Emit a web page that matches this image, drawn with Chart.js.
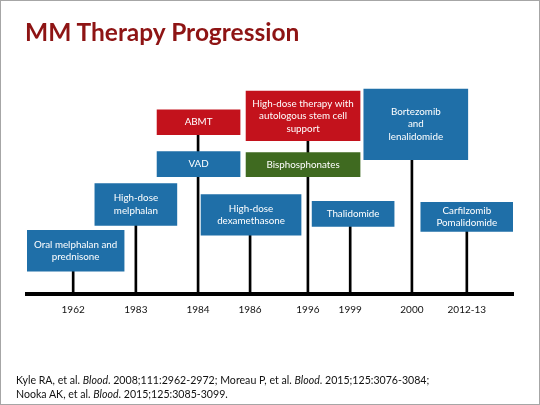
<!DOCTYPE html>
<html>
<head>
<meta charset="utf-8">
<script src="https://cdn.jsdelivr.net/npm/chart.js@4.4.1/dist/chart.umd.min.js"></script>
<style>
  html, body { margin: 0; padding: 0; background: #fff; }
  #wrap { position: relative; width: 540px; height: 405px; overflow: hidden; font-family: Lato, "Open Sans", sans-serif; }
  #chart { position: absolute; left: 0; top: 0; }
  #frame { position: absolute; left: 0; top: 0; width: 540px; height: 405px; box-sizing: border-box; border: 1px solid #a6a6a6; pointer-events: none; }
  #title { position: absolute; left: 25px; top: 17px; font-size: 24.5px; font-weight: bold; color: #8e1414; white-space: nowrap; }
  #note { position: absolute; left: 16px; top: 373px; font-size: 10.6px; line-height: 14px; color: #111; white-space: nowrap; }
</style>
</head>
<body>
<div id="wrap">
  <canvas id="chart" width="540" height="405"></canvas>
  <div id="title">MM Therapy Progression</div>
  <div id="note">Kyle RA, et al. <i>Blood</i>. 2008;111:2962-2972; Moreau P, et al. <i>Blood</i>. 2015;125:3076-3084;<br>Nooka AK, et al. <i>Blood</i>. 2015;125:3085-3099.</div>
  <div id="frame"></div>
</div>
<script>
// timeline stops (position along the axis, 0-100) and their labels
const years = ["1962", "1983", "1984", "1986", "1996", "1999", "2000", "2012-13"];
const stemPos = [9.5, 22.4, 35.2, 45.9, 57.8, 66.5, 79.2, 90.5];
// how high each stem reaches (bottom of its top box)
const stemTop = [23, 69, 160, 59, 154, 68, 135, 63];

// boxes: label lines, centre on the timeline, vertical extent above the axis
const boxLabels = [
  ["Oral melphalan and", "prednisone"],
  ["High-dose", "melphalan"],
  ["VAD"],
  ["ABMT"],
  ["High-dose", "dexamethasone"],
  ["High-dose therapy with", "autologous stem cell", "support"],
  ["Bisphosphonates"],
  ["Thalidomide"],
  ["Bortezomib", "and", "lenalidomide"],
  ["Carfilzomib", "Pomalidomide"]
];
const boxPos = [10.0, 22.4, 35.3, 35.3, 46.1, 56.8, 56.8, 67.1, 80.0, 90.5];
const boxLow = [23, 69, 118, 160, 59, 154, 118, 68, 135, 63];
const boxHigh = [64, 111, 143, 185, 100, 204, 142, 93, 206, 92];
const boxKind = ["blue", "blue", "blue", "red", "blue", "red", "green", "blue", "blue", "blue"];

const colors = { blue: "#1f6fa8", red: "#c3121c", green: "#3f6a20" };
const boxWidths = [97, 82, 83, 83, 100, 114, 114, 82, 104, 92];

const boxSets = boxLabels.map((lbl, i) => ({
  type: "bar",
  label: lbl.join(" "),
  data: [{ x: boxPos[i], y: [boxLow[i], boxHigh[i]] }],
  backgroundColor: colors[boxKind[i]],
  barThickness: boxWidths[i],
  grouped: false,
  order: 0
}));

const stemSet = {
  type: "bar",
  label: "stems",
  data: stemPos.map((x, i) => ({ x: x, y: [0, stemTop[i]] })),
  backgroundColor: "#000",
  barThickness: 2,
  grouped: false,
  order: 5
};

// white text inside each box
const boxText = {
  id: "boxText",
  afterDatasetsDraw(chart) {
    const ctx = chart.ctx;
    ctx.save();
    ctx.fillStyle = "#fff";
    ctx.font = "9.8px Lato, 'Open Sans', sans-serif";
    ctx.textAlign = "center";
    ctx.textBaseline = "middle";
    boxLabels.forEach((lines, i) => {
      const el = chart.getDatasetMeta(i).data[0];
      if (!el) return;
      const cx = el.x;
      const cy = (el.y + el.base) / 2;
      const lh = 12.5;
      lines.forEach((t, j) => {
        ctx.fillText(t, cx, cy + (j - (lines.length - 1) / 2) * lh);
      });
    });
    ctx.restore();
  }
};

new Chart(document.getElementById("chart"), {
  type: "bar",
  data: { datasets: boxSets.concat([stemSet]) },
  options: {
    responsive: false,
    animation: false,
    layout: { padding: { left: 27, right: 27, top: 85, bottom: 79 } },
    plugins: { legend: { display: false }, tooltip: { enabled: false }, title: { display: false } },
    scales: {
      x: {
        type: "linear",
        min: 0,
        max: 100,
        offset: false,
        grid: { display: false, drawTicks: false },
        border: { display: true, color: "#000", width: 4 },
        afterBuildTicks: (scale) => { scale.ticks = stemPos.map(v => ({ value: v })); },
        ticks: {
          autoSkip: false,
          maxRotation: 0,
          padding: 10,
          color: "#111",
          font: { family: "Lato, 'Open Sans', sans-serif", size: 10 },
          callback: (v, i) => years[i]
        }
      },
      y: { type: "linear", min: 0, max: 210, display: false }
    }
  },
  plugins: [boxText]
});
</script>
</body>
</html>
